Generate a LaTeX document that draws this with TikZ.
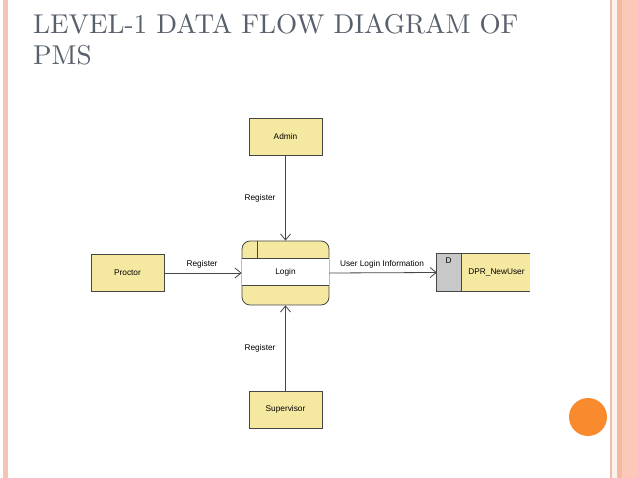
\documentclass[tikz,border=0pt]{standalone}
\usepackage{fontspec}
\newfontfamily\diafont{Liberation Sans}
\newfontfamily\titlefont{lmroman10-regular}[Extension=.otf]
\usetikzlibrary{arrows.meta}
\definecolor{boxyellow}{RGB}{245,233,162}
\definecolor{boxgray}{RGB}{200,200,200}
\definecolor{boxline}{RGB}{70,70,70}
\definecolor{titlecol}{RGB}{88,96,108}
\definecolor{pinkA}{RGB}{246,196,178}
\definecolor{pinkB}{RGB}{240,190,172}
\definecolor{pinkC}{RGB}{243,185,165}
\definecolor{pinkD}{RGB}{252,201,184}
\definecolor{pinkL}{RGB}{253,242,236}
\definecolor{orangedot}{RGB}{250,138,46}
\tikzset{
  entity/.style={draw=boxline, fill=boxyellow, line width=0.8pt, minimum width=73pt, minimum height=37pt, inner sep=0pt, font=\diafont\fontsize{8.3}{9}\selectfont},
  flow/.style={draw=boxline, line width=0.8pt, -{Straight Barb[length=6pt,width=10pt,line width=0.8pt]}},
  flowlabel/.style={font=\diafont\fontsize{8.3}{9}\selectfont, text=black, inner sep=1pt},
  txt/.style={font=\diafont\fontsize{8.3}{9}\selectfont, inner sep=0pt},
  titletxt/.style={anchor=base west, inner sep=0pt, text=titlecol, font=\titlefont\fontsize{27.2}{30}\selectfont}
}
\begin{document}
\begin{tikzpicture}[x=1pt,y=-1pt]
\useasboundingbox (0,0) rectangle (638,478);
\fill[white] (0,0) rectangle (638,478);
% border strips
\fill[pinkA] (3,0) rectangle (7.5,478);
\fill[pinkB] (609.5,0) rectangle (612,478);
\fill[pinkL] (612,0) rectangle (617,478);
\fill[pinkC] (617,0) rectangle (622,478);
\fill[pinkD] (622,0) rectangle (638,478);
% title
\node[titletxt] (t1) at (33,34) {LEVEL-1 DATA FLOW DIAGRAM OF};
\node[titletxt] (t2) at (33,65) {PMS};
% entities
\node[entity] (admin) at (285.5,136.5) {Admin};
\node[entity] (proctor) at (127.5,273) {Proctor};
\node[entity] (super) at (285.5,409.5) {Supervisor};
% login process
\node[draw=boxline, fill=boxyellow, line width=0.8pt, rounded corners=8pt, minimum width=87pt, minimum height=64pt, inner sep=0pt] (login) at (285.5,273) {};
\draw[boxline, line width=0.8pt] ([yshift=-18pt]login.north west) -- ([yshift=-18pt]login.north east);
\draw[boxline, line width=0.8pt] ([yshift=-45pt]login.north west) -- ([yshift=-45pt]login.north east);
\draw[boxline, line width=0.8pt] ([xshift=16pt]login.north west) -- ([xshift=16pt,yshift=-18pt]login.north west);
\fill[white] ([xshift=0.4pt,yshift=-18.4pt]login.north west) rectangle ([xshift=-0.4pt,yshift=-44.6pt]login.north east);
\node[txt] (logintxt) at (285.5,272.5) {Login};
% data store
\node[minimum width=93pt, minimum height=37pt, inner sep=0pt] (store) at (483.5,272.5) {};
\fill[boxyellow] (store.north west) rectangle (store.south east);
\fill[boxgray] (store.north west) rectangle ([xshift=25pt]store.south west);
\draw[boxline, line width=0.8pt] (store.north east) -- (store.north west) -- (store.south west) -- (store.south east);
\draw[boxline, line width=0.8pt] ([xshift=25pt]store.north west) -- ([xshift=25pt]store.south west);
\node[txt] (dlab) at (448.5,261) {D};
\node[txt] (storetxt) at (496.5,272.5) {DPR\_NewUser};
% flows
\draw[flow] (admin.south) -- (login.north);
\draw[flow] (super.north) -- (login.south);
\draw[flow] (proctor.east) -- (login.west);
\draw[flow] (login.east) -- (store.west);
\node[flowlabel] (l1) at (260,198) {Register};
\node[flowlabel] (l2) at (260,348) {Register};
\node[flowlabel] (l3) at (202,264.5) {Register};
\node[flowlabel] (l4) at (382,264.5) {User Login Information};
% orange dot
\fill[orangedot] (588,417) circle (19);
\end{tikzpicture}
\end{document}
